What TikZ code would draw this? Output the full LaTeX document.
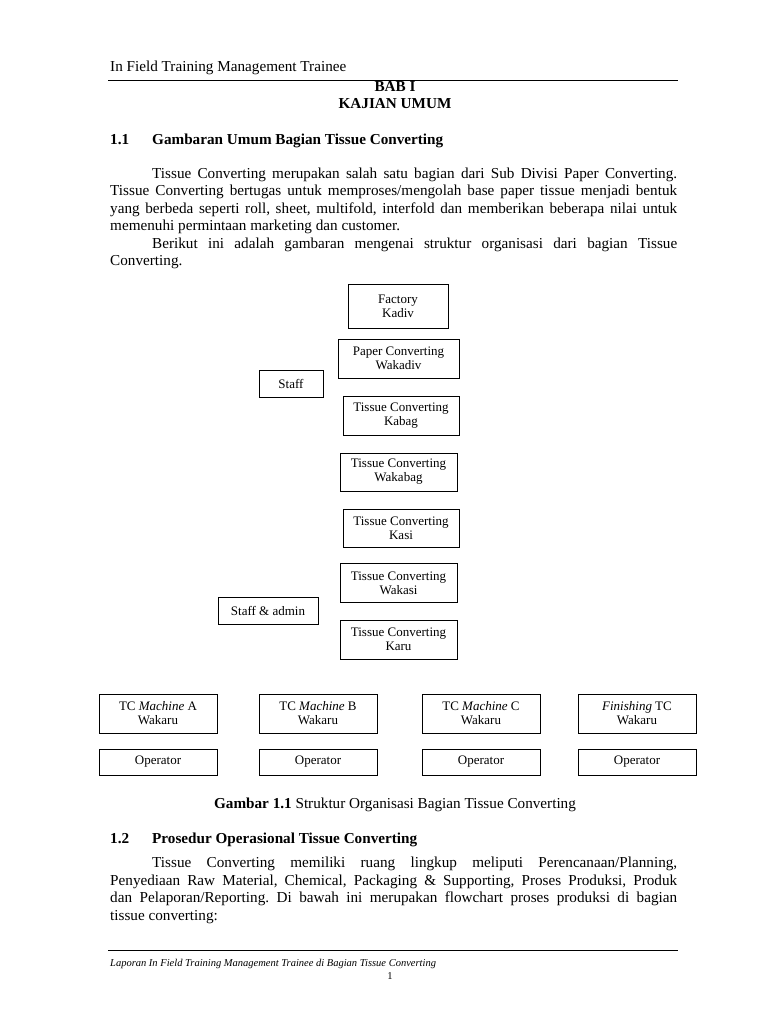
\documentclass[tikz,border=0pt]{standalone}
\usepackage{fontspec}
\setmainfont{Liberation Serif}
\frenchspacing
\newcommand{\bodyfont}{\fontsize{15.2}{17.3}\selectfont}
\newcommand{\boxfont}{\fontsize{13}{14}\selectfont}
\begin{document}
\begin{tikzpicture}[x=1pt,y=-1pt,
  txt/.style={anchor=base west,inner sep=0,font=\bodyfont},
  ctxt/.style={anchor=base,inner sep=0,font=\bodyfont},
  orgbox/.style={draw,line width=0.9pt,inner sep=0,align=center,font=\boxfont},
  sruleline/.style={line width=0.9pt},
  truleline/.style={line width=1.8pt}]
\useasboundingbox (0,0) rectangle (768,1024);
\fill[white] (0,0) rectangle (768,1024);
% header
\node[txt] (hdr) at (110,72) {In Field Training Management Trainee};
\coordinate (hl) at (108,80.5);
\coordinate (hr) at (678,80.5);
\draw[sruleline] (hl) -- (hr);
\node[ctxt,font=\bodyfont\bfseries] (bab) at (395,92) {BAB I};
\node[ctxt,font=\bodyfont\bfseries] (kaj) at (395,109) {KAJIAN UMUM};
\node[txt,font=\bodyfont\bfseries] (n11) at (110,145) {1.1};
\node[txt,font=\bodyfont\bfseries] (h11) at (152,145) {Gambaran Umum Bagian Tissue Converting};
% paragraph 1
\node[txt] (p1) at (152,179) {\makebox[525pt][s]{Tissue Converting merupakan salah satu bagian dari Sub Divisi Paper Converting.}};
\node[txt] (p2) at (110,196) {\makebox[567pt][s]{Tissue Converting bertugas untuk memproses/mengolah base paper tissue menjadi bentuk}};
\node[txt] (p3) at (110,214) {\makebox[567pt][s]{yang berbeda seperti roll, sheet, multifold, interfold dan memberikan beberapa nilai untuk}};
\node[txt] (p4) at (110,231) {memenuhi permintaan marketing dan customer.};
\node[txt] (p5) at (152,248) {\makebox[525pt][s]{Berikut ini adalah gambaran mengenai struktur organisasi dari bagian Tissue}};
\node[txt] (p6) at (110,265) {Converting.};
% org chart
\node[orgbox,minimum width=100pt,minimum height=44pt] (kadiv) at (398,306) {Factory\\Kadiv};
\node[orgbox,minimum width=121pt,minimum height=39pt] (wakadiv) at (398.5,358.5) {Paper Converting\\Wakadiv};
\node[orgbox,minimum width=64pt,minimum height=27pt] (staff) at (291,383.5) {Staff};
\node[orgbox,minimum width=116pt,minimum height=39pt] (kabag) at (401,415.5) {Tissue Converting\\Kabag};
\node[orgbox,minimum width=117pt,minimum height=38pt] (wakabag) at (398.5,472) {Tissue Converting\\Wakabag};
\node[orgbox,minimum width=116pt,minimum height=38pt] (kasi) at (401,528) {Tissue Converting\\Kasi};
\node[orgbox,minimum width=117pt,minimum height=39pt] (wakasi) at (398.5,583) {Tissue Converting\\Wakasi};
\node[orgbox,minimum width=100pt,minimum height=27pt] (sadmin) at (268,610.5) {Staff \& admin};
\node[orgbox,minimum width=117pt,minimum height=39pt] (karu) at (398.5,639.5) {Tissue Converting\\Karu};
% machines
\node[orgbox,minimum width=118pt,minimum height=39pt] (ma) at (158,713.5) {TC \textit{Machine} A\\Wakaru};
\node[orgbox,minimum width=118pt,minimum height=39pt] (mb) at (318,713.5) {TC \textit{Machine} B\\Wakaru};
\node[orgbox,minimum width=118pt,minimum height=39pt] (mc) at (481,713.5) {TC \textit{Machine} C\\Wakaru};
\node[orgbox,minimum width=118pt,minimum height=39pt] (md) at (637,713.5) {\textit{Finishing} TC\\Wakaru};
\node[orgbox,minimum width=118pt,minimum height=26pt] (oa) at (158,762) {Operator};
\node[orgbox,minimum width=118pt,minimum height=26pt] (ob) at (318,762) {Operator};
\node[orgbox,minimum width=118pt,minimum height=26pt] (oc) at (481,762) {Operator};
\node[orgbox,minimum width=118pt,minimum height=26pt] (od) at (637,762) {Operator};
% caption
\node[ctxt] (cap) at (395,808) {\textbf{Gambar 1.1} Struktur Organisasi Bagian Tissue Converting};
\node[txt,font=\bodyfont\bfseries] (n12) at (110,843) {1.2};
\node[txt,font=\bodyfont\bfseries] (h12) at (152,843) {Prosedur Operasional Tissue Converting};
% paragraph 2
\node[txt] (q1) at (152,867) {\makebox[525pt][s]{Tissue Converting memiliki ruang lingkup meliputi Perencanaan/Planning,}};
\node[txt] (q2) at (110,885) {\makebox[567pt][s]{Penyediaan Raw Material, Chemical, Packaging \& Supporting, Proses Produksi, Produk}};
\node[txt] (q3) at (110,902) {\makebox[567pt][s]{dan Pelaporan/Reporting. Di bawah ini merupakan flowchart proses produksi di bagian}};
\node[txt] (q4) at (110,920) {tissue converting:};
% footer
\coordinate (fl) at (108,950.5);
\coordinate (fr) at (678,950.5);
\draw[truleline] (fl) -- (fr);
\node[anchor=base west,inner sep=0,font=\fontsize{10.5}{13}\selectfont\itshape] (ftr) at (110,966) {Laporan In Field Training Management Trainee di Bagian Tissue Converting};
\node[anchor=base,inner sep=0,font=\fontsize{10.5}{13}\selectfont] (pg) at (390,979) {1};
\end{tikzpicture}
\end{document}
